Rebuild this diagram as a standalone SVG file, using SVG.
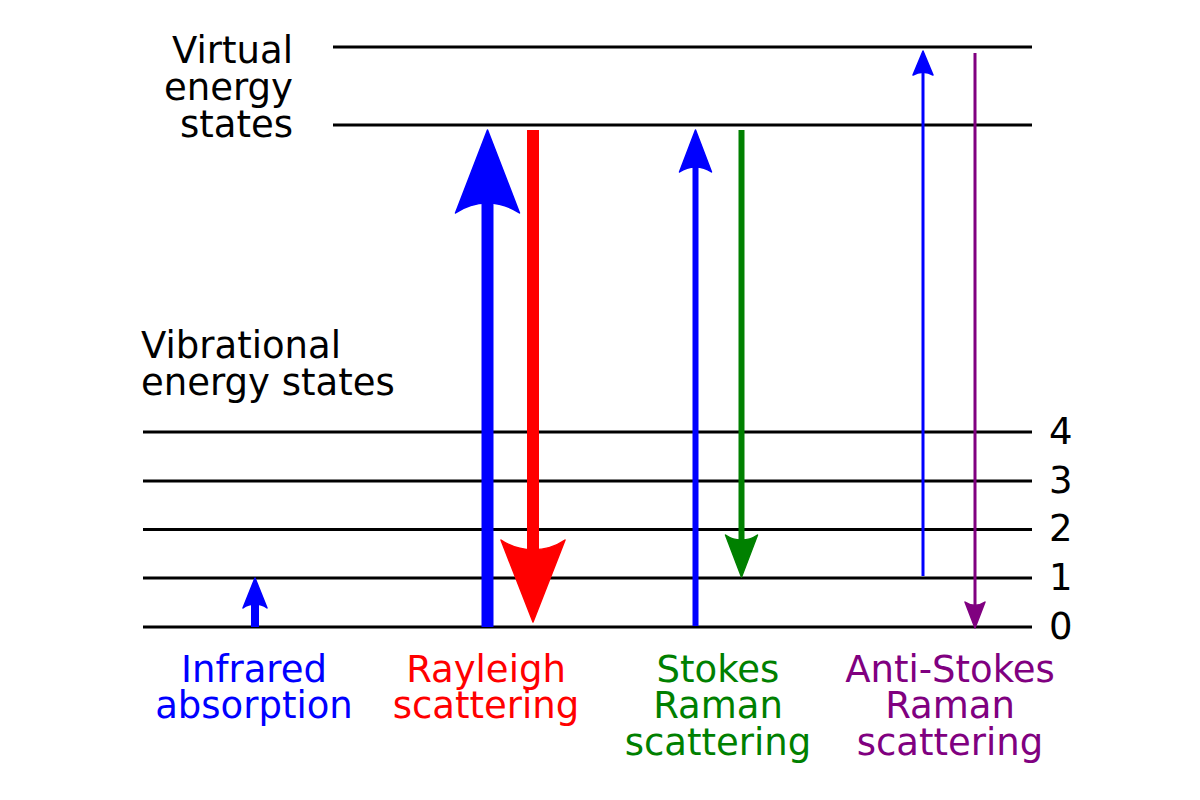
<svg xmlns="http://www.w3.org/2000/svg" width="1200" height="800" viewBox="0 0 1200 800">
<style>
.lvl{stroke:#000;stroke-width:3;fill:none}
text{font-family:"DejaVu Sans","Liberation Sans",sans-serif;font-size:37px}
.k{fill:#000}
.b{fill:#0000ff}.r{fill:#ff0000}.g{fill:#008000}.p{fill:#800080}
.sb{stroke:#0000ff}.sr{stroke:#ff0000}.sg{stroke:#008000}.sp{stroke:#800080}
.head{stroke-linejoin:round;stroke-width:1.5}
</style>
<rect width="1200" height="800" fill="#fff"/>
<g id="virtual-levels">
<line class="lvl" x1="333" y1="47" x2="1032" y2="47"/>
<line class="lvl" x1="333" y1="125" x2="1032" y2="125"/>
<text class="k" text-anchor="end"><tspan x="293" y="63">Virtual</tspan><tspan x="293" y="100">energy</tspan><tspan x="293" y="137">states</tspan></text>
</g>
<g id="vibrational-levels">
<line class="lvl" x1="143" y1="432" x2="1032" y2="432"/>
<line class="lvl" x1="143" y1="481" x2="1032" y2="481"/>
<line class="lvl" x1="143" y1="529.5" x2="1032" y2="529.5"/>
<line class="lvl" x1="143" y1="578" x2="1032" y2="578"/>
<line class="lvl" x1="143" y1="627" x2="1032" y2="627"/>
<text class="k"><tspan x="141" y="358">Vibrational</tspan><tspan x="141" y="395">energy states</tspan></text>
<text class="k" x="1049" y="444">4</text>
<text class="k" x="1049" y="493">3</text>
<text class="k" x="1049" y="541">2</text>
<text class="k" x="1049" y="590">1</text>
<text class="k" x="1049" y="639">0</text>
</g>
<g id="connectors">
<rect class="b" x="251" y="600" width="8" height="27"/>
<path class="b sb head" d="M255,578 L267,608 C259.8,602.8 250.2,602.8 243,608 Z"/>
<rect class="b" x="481.5" y="200" width="12" height="427"/>
<path class="b sb head" d="M487.5,130 L519.5,213 C500.3,199.7 474.7,199.7 455.5,213 Z"/>
<rect class="r" x="527" y="130" width="12" height="425"/>
<path class="r sr head" d="M533,622 L565,540 C545.8,553.1 520.2,553.1 501,540 Z"/>
<rect class="b" x="692.5" y="162" width="6" height="464"/>
<path class="b sb head" d="M695.5,130 L711.5,172 C701.9,165.3 689.1,165.3 679.5,172 Z"/>
<rect class="g" x="738.5" y="130" width="6" height="412"/>
<path class="g sg head" d="M741.5,577 L757.5,535 C747.9,541.7 735.1,541.7 725.5,535 Z"/>
<rect class="b" x="921.5" y="68" width="3" height="508"/>
<path class="b sb head" d="M923,51 L933,75 C927,71.2 919,71.2 913,75 Z"/>
<rect class="p" x="973.5" y="53" width="3" height="556"/>
<path class="p sp head" d="M975,628 L985,602 C979,606.2 971,606.2 965,602 Z"/>
</g>
<g id="labels">
<text class="b" text-anchor="middle"><tspan x="254" y="682">Infrared</tspan><tspan x="254" y="718">absorption</tspan></text>
<text class="r" text-anchor="middle"><tspan x="486" y="682">Rayleigh</tspan><tspan x="486" y="718">scattering</tspan></text>
<text class="g" text-anchor="middle"><tspan x="718" y="682">Stokes</tspan><tspan x="718" y="718">Raman</tspan><tspan x="718" y="755">scattering</tspan></text>
<text class="p" text-anchor="middle"><tspan x="950" y="682">Anti-Stokes</tspan><tspan x="950" y="718">Raman</tspan><tspan x="950" y="755">scattering</tspan></text>
</g>
</svg>
